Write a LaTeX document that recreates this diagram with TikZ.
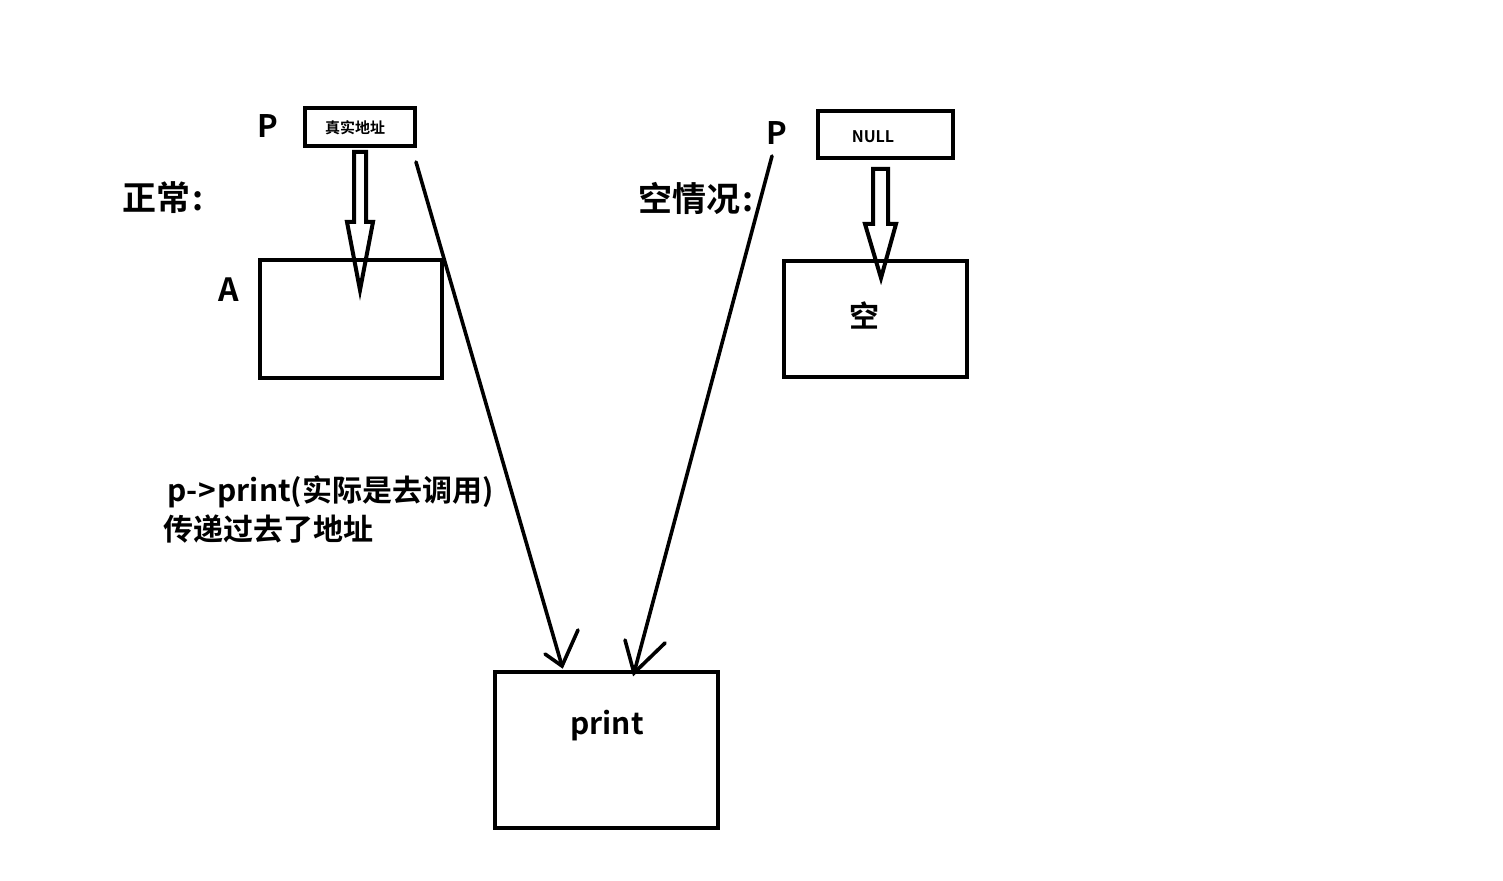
\documentclass[tikz,border=0pt]{standalone}
\usepackage{fontspec}
\setmainfont{Noto Sans CJK SC}[BoldFont={Noto Sans CJK SC Bold}]
\newfontfamily\cjk{Noto Sans CJK SC Bold}
\begin{document}
\begin{tikzpicture}[x=0.5pt,y=-0.5pt,
  box/.style={draw=black,line width=2pt},
  hollow/.style={draw=black,line width=2pt,line join=miter,fill=white},
  conn/.style={draw=black,line width=1.8pt,line cap=round},
  lbl/.style={inner sep=0pt,font=\cjk\fontsize{#1}{#1}\selectfont},
]
\useasboundingbox[fill=white] (0,0) rectangle (1503,881);

% left: normal case
\node[lbl=15.5pt] (p1) at (268,126) {P};
\draw[box] (305,108) rectangle (415,146);
\node[lbl=7.5pt] (addr) at (355,128) {真实地址};
\draw[hollow] (354,152) -- (366,152) -- (366,222) -- (373,222) -- (360,290) -- (347,222) -- (354,222) -- cycle;
\node[lbl=17pt,anchor=west] (normal) at (122,198) {正常\kern1pt:};
\node[lbl=16pt] (A) at (229,290) {A};
\draw[box] (260,260) rectangle (442,378);

% right: null case
\node[lbl=15.5pt] (p2) at (777,133) {P};
\draw[box] (818,111) rectangle (953,158);
\node[lbl=8pt] (null) at (873,137) {NULL};
\draw[hollow] (873,169) -- (888,169) -- (888,224) -- (896,224) -- (881,278) -- (865,224) -- (873,224) -- cycle;
\node[lbl=17pt,anchor=west] (empty) at (638,198) {空情况\kern1pt:};
\draw[box] (784,261) rectangle (967,377);
\node[lbl=15pt] (kong) at (864,315) {空};

% description
\node[lbl=15pt,anchor=west] (desc1) at (167,492) {p-\kern0.5pt>\kern0.5pt print(实际是去调用)};
\node[lbl=15pt,anchor=west] (desc2) at (163,529) {传递过去了地址};

% print box
\draw[box] (495,672) rectangle (718,828);
\node[lbl=15pt] (print) at (607,726) {print};

% connectors
\coordinate (s1) at (416,162);
\coordinate (t1) at (562,666);
\coordinate (w1a) at (545,654);
\coordinate (w1b) at (578,630);
\coordinate (s2) at (772,156);
\coordinate (t2) at (634,673);
\coordinate (w2a) at (625,640);
\coordinate (w2b) at (665,643);
\draw[conn] (s1) -- (t1);
\draw[conn] (w1a) -- (t1) -- (w1b);
\draw[conn] (s2) -- (t2);
\draw[conn] (w2a) -- (t2) -- (w2b);
\end{tikzpicture}
\end{document}
